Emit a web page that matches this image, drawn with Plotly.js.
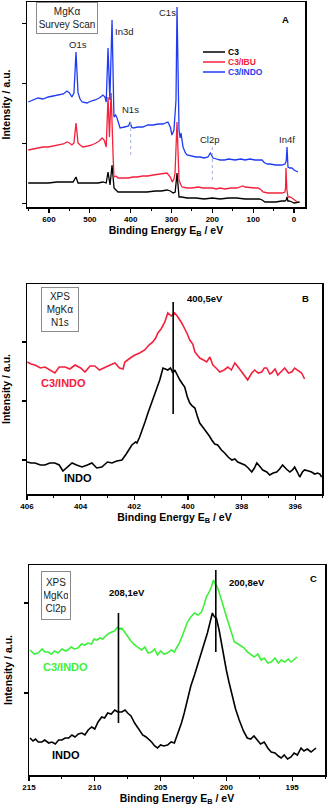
<!DOCTYPE html>
<html>
<head>
<meta charset="utf-8">
<script src="https://cdn.plot.ly/plotly-3.0.1.min.js"></script>
<style>
  body { margin: 0; background: #fff; }
  #chart { width: 328px; height: 810px; }
</style>
</head>
<body>
<div id="chart"></div>
<script>
// ---- data: [binding energy (eV), intensity (a.u., offset)] ----
var surveyC3 = [[651,24],[630,24],[602,24],[580,25],[556,25],[541,25],[534,30],[529,24],[510,24],[495,24],[480,24],[468,25],[460,24],[455.5,35],[452,23],[450.6,22],[445.7,42],[442,22],[440.8,19],[436,17],[431,15],[415,15],[400,15],[385,15],[360,15],[340,16],[325,16],[311,17],[303,16],[296,14],[291,15],[286.5,34],[283.5,15],[281.6,10],[275,10],[262,9],[240,9],[220,8],[200,9],[181,8],[160,9],[140,9],[120,8],[95.5,8],[85,8],[78,7],[71,5],[60,5],[45,5],[30,6],[22,6],[19,7],[17,10],[15,6],[12,6],[5,5],[0,4],[-14,5]];
var surveyIBU = [[651,57],[640,58],[627,59],[615,60],[602,60],[590,61],[578,62],[565,63],[556,65],[550,64],[544,62],[539,64],[534,84],[529,64],[524,62],[517,60],[505,61],[495,62],[485,64],[477,66],[470,69],[465,67],[460,60],[455.5,110],[452,70],[448,114],[443,50],[441,30],[436,31],[431,29],[420,29],[405,29],[395,30],[384.5,30],[370,31],[358,31],[345,32],[330,33],[320,33],[311,34],[303,30],[298,25],[294,28],[291.4,34],[286.5,85],[283,40],[281.6,27],[277,22],[274,20],[262,19],[250,19],[235,20],[223,19],[210,19],[200,19],[190,18],[181,19],[169,18],[155,19],[140,19],[125,21],[120,20],[105,19],[95,19],[88,19],[80,17],[76,15],[64,14],[50,14],[40,14],[29,14],[22,15],[20.5,20],[19.6,39],[17.5,18],[14.7,10],[10,10],[4.9,9],[0,7],[-5,6],[-9.8,5]];
var surveyINDO = [[651,105],[640,107],[627,109],[615,108],[602,110],[590,111],[578,112],[565,113],[556,116],[550,114],[544,110],[539,114],[534,155],[529,114],[524,108],[519,105],[507,104],[497,106],[487,107],[477,109],[468,112],[463,110],[460,105],[455.5,159],[451,107],[445.7,187],[441,90],[437,92],[433.5,89],[428,82],[426,79],[415,80],[405,81],[401.6,85],[398,80],[394,79],[382,80],[370,80],[358,82],[345,82],[333,83],[321,83],[309,85],[303,80],[299,72],[294,77],[289,107],[286.5,200],[283.5,110],[281.6,77],[279,69],[276.7,74],[271.8,60],[266,54],[262,52],[250,51],[240,50],[230,50],[220,49],[210.6,50],[205,54],[203.3,53],[200,50],[198.4,49],[190,48],[181,47],[170,47],[160,48],[144.5,47],[130,48],[120,47],[108,48],[95.5,47],[85,47],[78.4,47],[74,45],[71,44],[65,43],[58.8,43],[45,42],[35,42],[29.4,42],[22.1,43],[19,46],[17.1,60],[15.5,45],[14.7,40],[10,39],[4.9,39],[0,37],[-5,36],[-9.8,35]];

var n1sC3INDO = [[405.99,132],[405.85,130],[405.70,129],[405.5,126],[405.33,127],[405.15,124],[404.96,121],[404.8,127],[404.58,127],[404.4,125],[404.21,129],[404.0,126],[403.84,122],[403.65,128],[403.47,128],[403.3,124],[403.09,127],[402.9,129],[402.72,131],[402.55,126],[402.42,125],[402.35,132],[402.15,136],[401.98,139],[401.8,141],[401.61,144],[401.45,149],[401.31,152],[401.2,156],[401.12,161],[401.0,165],[400.86,172],[400.75,181],[400.62,178],[400.5,181],[400.4,178],[400.23,171],[400.12,166],[400.04,161],[399.93,154],[399.82,150],[399.74,142],[399.56,136],[399.42,134],[399.30,132],[399.18,137],[399.07,129],[398.95,126],[398.81,122],[398.65,124],[398.51,127],[398.38,124],[398.25,131],[398.1,126],[397.99,122],[397.88,118],[397.77,114],[397.62,121],[397.51,124],[397.38,121],[397.25,122],[397.15,126],[397.06,126],[396.95,120],[396.88,121],[396.75,125],[396.65,119],[396.5,123],[396.39,126],[396.25,121],[396.13,122],[396.02,126],[395.91,124],[395.83,122],[395.76,121],[395.65,115]];
var n1sINDO = [[406.0,32],[405.85,31],[405.70,31],[405.5,29],[405.33,29],[405.15,31],[404.96,31],[404.8,29],[404.66,23],[404.5,27],[404.32,31],[404.15,29],[403.95,27],[403.75,29],[403.58,31],[403.4,26],[403.21,27],[403.0,32],[402.83,31],[402.65,33],[402.46,34],[402.3,40],[402.09,49],[401.95,52],[401.90,51],[401.8,57],[401.72,64],[401.6,72],[401.49,81],[401.35,92],[401.23,101],[401.12,108],[401.05,114],[400.93,126],[400.84,125],[400.75,124],[400.65,126],[400.56,121],[400.49,124],[400.4,119],[400.30,114],[400.2,110],[400.12,107],[400.02,97],[399.93,91],[399.84,88],[399.74,86],[399.65,78],[399.56,71],[399.42,66],[399.30,62],[399.2,58],[399.11,54],[399.0,50],[398.89,49],[398.75,44],[398.63,41],[398.5,37],[398.36,34],[398.25,35],[398.14,32],[398.0,30],[397.88,29],[397.75,26],[397.62,22],[397.52,26],[397.43,31],[397.3,27],[397.21,24],[397.06,22],[396.95,19],[396.82,21],[396.69,22],[396.58,25],[396.47,29],[396.33,25],[396.20,22],[396.1,24],[396.02,27],[395.92,22],[395.83,17],[395.73,22],[395.65,24],[395.5,23],[395.39,22],[395.27,20],[395.16,21],[395.08,20],[395.01,17]];

var cl2pC3INDO = [[214.92,125],[214.6,121],[214.32,122],[214.0,126],[213.8,123],[213.56,123],[213.3,121],[213.05,124],[212.80,122],[212.5,126],[212.2,124],[212.05,125],[211.8,128],[211.55,126],[211.29,127],[211.0,131],[210.75,130],[210.53,132],[210.25,131],[210.05,136],[209.85,135],[209.6,137],[209.4,136],[209.24,138],[209.0,141],[208.71,143],[208.5,144],[208.26,148],[208.1,146],[207.95,147],[207.75,143],[207.5,138],[207.25,134],[206.97,130],[206.7,127],[206.44,125],[206.2,128],[205.95,122],[205.68,123],[205.45,126],[205.23,120],[205.0,124],[204.75,121],[204.47,122],[204.2,125],[203.95,123],[203.79,127],[203.6,131],[203.41,137],[203.2,144],[202.95,153],[202.7,158],[202.42,162],[202.15,160],[201.89,163],[201.7,170],[201.52,178],[201.3,183],[201.14,188],[200.98,195],[200.85,191],[200.68,188],[200.5,181],[200.30,172],[200.1,163],[199.92,155],[199.65,144],[199.39,133],[199.1,131],[198.9,129],[198.64,127],[198.4,123],[198.15,121],[197.88,118],[197.6,121],[197.35,115],[197.12,117],[196.85,112],[196.59,113],[196.3,117],[196.05,112],[195.83,115],[195.55,113],[195.3,116],[195.08,113],[194.85,116],[194.62,118]];
var cl2pINDO = [[214.92,37],[214.7,34],[214.5,36],[214.3,33],[214.02,33],[213.8,35],[213.5,32],[213.26,33],[213.0,31],[212.75,35],[212.50,35],[212.25,37],[211.98,37],[211.74,40],[211.5,38],[211.25,41],[210.98,42],[210.75,40],[210.5,45],[210.23,48],[210.0,46],[209.75,53],[209.47,58],[209.25,57],[209.02,62],[208.75,61],[208.48,65],[208.25,63],[207.95,63],[207.7,65],[207.50,62],[207.25,59],[206.97,52],[206.7,47],[206.36,40],[206.1,38],[205.85,35],[205.68,33],[205.45,29],[205.23,27],[205.0,30],[204.75,29],[204.47,30],[204.2,33],[203.95,32],[203.79,38],[203.6,44],[203.41,52],[203.2,62],[202.95,75],[202.7,89],[202.42,100],[202.15,111],[201.89,122],[201.65,132],[201.44,142],[201.25,152],[201.06,162],[200.9,158],[200.76,157],[200.55,145],[200.38,132],[200.2,118],[200.00,105],[199.8,93],[199.55,78],[199.3,66],[199.02,55],[198.7,44],[198.41,37],[198.15,36],[197.9,39],[197.65,35],[197.4,31],[197.12,33],[196.85,27],[196.59,23],[196.3,22],[196.05,19],[195.83,17],[195.6,20],[195.35,16],[195.08,18],[194.85,22],[194.6,20],[194.32,27],[194.1,24],[193.85,26],[193.56,23],[193.35,25],[193.18,27]];

// vertical markers: [energy, from, to]
var dottedA = [[400, 52, 87], [200, 27, 62]];
var markB = [[400.55, 80, 192]];
var markC = [[208.2, 52, 162], [200.8, 123, 205]];

var RED = '#f4203c', BLUE = '#1f3cf2', GREEN = '#3ef03a';
var FONT = 'Liberation Sans, Arial, sans-serif';

function col(arr, i) { return arr.map(function (p) { return p[i]; }); }

function vlines(list) {
  var x = [], y = [];
  list.forEach(function (m) { x.push(m[0], m[0], null); y.push(m[1], m[2], null); });
  return {x: x, y: y};
}

function spec(arr, color, xa, ya, width, name) {
  return {x: col(arr, 0), y: col(arr, 1), type: 'scatter', mode: 'lines', xaxis: xa, yaxis: ya,
          line: {color: color, width: width}, showlegend: false, name: name, hoverinfo: 'skip'};
}

var dA = vlines(dottedA), mB = vlines(markB), mC = vlines(markC);

var data = [
  spec(surveyC3, '#000', 'x', 'y', 1.3, 'C3'),
  spec(surveyIBU, RED, 'x', 'y', 1.3, 'C3/IBU'),
  spec(surveyINDO, BLUE, 'x', 'y', 1.3, 'C3/INDO'),
  {x: dA.x, y: dA.y, type: 'scatter', mode: 'lines', xaxis: 'x', yaxis: 'y', line: {color: '#9fb0e0', width: 1, dash: 'dot'}, showlegend: false, hoverinfo: 'skip'},
  spec(n1sC3INDO, RED, 'x2', 'y2', 1.6),
  spec(n1sINDO, '#000', 'x2', 'y2', 1.6),
  {x: mB.x, y: mB.y, type: 'scatter', mode: 'lines', xaxis: 'x2', yaxis: 'y2', line: {color: '#000', width: 1.6}, showlegend: false, hoverinfo: 'skip'},
  spec(cl2pC3INDO, GREEN, 'x3', 'y3', 1.6),
  spec(cl2pINDO, '#000', 'x3', 'y3', 1.6),
  {x: mC.x, y: mC.y, type: 'scatter', mode: 'lines', xaxis: 'x3', yaxis: 'y3', line: {color: '#000', width: 1.6}, showlegend: false, hoverinfo: 'skip'}
];

function xax(dom, range, dtick, minor, anchor) {
  return {domain: dom, range: range, anchor: anchor, dtick: dtick, tick0: 0,
    showline: true, linecolor: '#000', linewidth: 1.5, mirror: true,
    ticks: 'outside', ticklen: 4, tickwidth: 1.2, tickcolor: '#000',
    minor: {dtick: minor, ticks: 'outside', ticklen: 2.5, tickwidth: 1, tickcolor: '#000'},
    showgrid: false, zeroline: false,
    tickfont: {family: FONT, size: 8, color: '#000', weight: 700},
    title: {text: 'Binding Energy E<sub>B</sub> / eV', font: {family: FONT, size: 10.5, color: '#000', weight: 700}, standoff: 3}};
}
function yax(dom, range, tick0, dtick, anchor) {
  return {domain: dom, range: range, anchor: anchor, tick0: tick0, dtick: dtick,
    showline: true, linecolor: '#000', linewidth: 1.5, mirror: true,
    ticks: 'outside', ticklen: 4, tickwidth: 1.2, tickcolor: '#000',
    showticklabels: false, showgrid: false, zeroline: false,
    title: {text: 'Intensity / a.u.', font: {family: FONT, size: 10.5, color: '#000', weight: 700}, standoff: 9}};
}

function px(x) { return x / 328; }
function py(y) { return 1 - y / 810; }

function txt(x, y, text, size, color, bold, extra) {
  var a = {xref: 'paper', yref: 'paper', x: px(x), y: py(y), text: bold ? '<b>' + text + '</b>' : text,
           showarrow: false, font: {family: FONT, size: size, color: color}, xanchor: 'center', yanchor: 'middle'};
  for (var k in extra) a[k] = extra[k];
  return a;
}

var boxStyle = {bordercolor: '#8a8a8a', borderwidth: 1, borderpad: 2, bgcolor: '#fff'};

var annotations = [
  txt(67, 18, 'MgKα<br>Survey Scan', 10, '#222', false, Object.assign({width: 56, height: 26}, boxStyle)),
  txt(78, 44, 'O1s', 9.5, '#222'),
  txt(124, 31, 'In3d', 9.5, '#222'),
  txt(167, 12, 'C1s', 9.5, '#222'),
  txt(130, 110, 'N1s', 9.5, '#222'),
  txt(210, 139, 'Cl2p', 9.5, '#222'),
  txt(287, 139, 'In4f', 9.5, '#222'),
  txt(285, 19, 'A', 9.5, '#000', true),
  txt(226, 52, 'C3', 8.5, '#000', true, {xanchor: 'left'}),
  txt(226, 62, 'C3/IBU', 8.5, RED, true, {xanchor: 'left'}),
  txt(226, 72, 'C3/INDO', 8.5, BLUE, true, {xanchor: 'left'}),

  txt(60, 309.5, 'XPS<br>MgKα<br>N1s', 10, '#222', false, Object.assign({width: 32, height: 39}, boxStyle)),
  txt(205, 298, '400,5eV', 9.5, '#000', true),
  txt(305, 298, 'B', 9.5, '#000', true),
  txt(63, 383, 'C3/INDO', 11, RED, true),
  txt(78, 478, 'INDO', 11, '#000', true),

  txt(55.5, 595.5, 'XPS<br>MgKα<br>Cl2p', 10, '#222', false, Object.assign({width: 24, height: 43}, boxStyle)),
  txt(127, 592, '208,1eV', 9.5, '#000', true),
  txt(247, 582, '200,8eV', 9.5, '#000', true),
  txt(313, 578, 'C', 9.5, '#000', true),
  txt(65, 667, 'C3/INDO', 11, GREEN, true),
  txt(66, 755, 'INDO', 11, '#000', true)
];

var legendColors = ['#000', RED, BLUE];
var shapes = legendColors.map(function (c, i) {
  var y = 52 + i * 10;
  return {type: 'line', xref: 'paper', yref: 'paper', x0: px(203), x1: px(225), y0: py(y), y1: py(y),
          line: {color: c, width: 1.5}};
});

var layout = {
  width: 328, height: 810,
  margin: {l: 0, r: 0, t: 0, b: 0},
  paper_bgcolor: '#fff', plot_bgcolor: '#fff',
  showlegend: false,
  font: {family: FONT},
  xaxis: xax([px(27), px(305)], [654, -27], 100, 50, 'y'),
  yaxis: yax([py(207), py(2)], [0, 205], 3.5, 60, 'x'),
  xaxis2: xax([px(27), px(322)], [406, 395], 2, 1, 'y2'),
  yaxis2: yax([py(494), py(284)], [0, 210], 34, 59, 'x2'),
  xaxis3: xax([px(29), px(325)], [215, 192.5], 5, 2.5, 'y3'),
  yaxis3: yax([py(775), py(565)], [0, 210], 82, 90, 'x3'),
  annotations: annotations,
  shapes: shapes
};

Plotly.newPlot('chart', data, layout, {displayModeBar: false, staticPlot: true});
</script>
</body>
</html>
